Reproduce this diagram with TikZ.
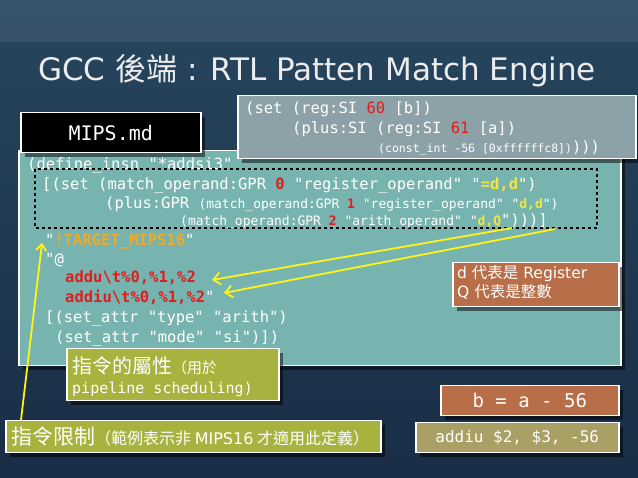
\documentclass[tikz,border=0pt]{standalone}
\usetikzlibrary{arrows.meta}
\usepackage{fontspec}
\setmainfont{DejaVu Sans}
\newfontfamily\mono{DejaVu Sans Mono}
\newfontfamily\cjk{Noto Sans CJK TC}
\begin{document}
\begin{tikzpicture}[x=1pt,y=-1pt,
  code/.style={anchor=base west,inner sep=0,text=white,font=\mono\fontsize{15.5}{16}\selectfont},
  codes/.style={anchor=base west,inner sep=0,text=white,font=\mono\fontsize{13}{14}\selectfont},
  box/.style={draw=white,line width=1.5pt},
  arr/.style={draw=yellow!90!white,line width=1.8pt,-{Straight Barb[length=7pt,width=12pt]}}]
\definecolor{bgA}{RGB}{40,70,95}\definecolor{bgB}{RGB}{25,45,70}
\definecolor{teal}{RGB}{120,180,175}\definecolor{gbox}{RGB}{140,162,168}
\definecolor{brn}{RGB}{184,110,72}\definecolor{olv}{RGB}{168,178,62}
\definecolor{kha}{RGB}{168,160,100}\definecolor{rr}{RGB}{220,30,30}
\definecolor{yy}{RGB}{240,230,60}\definecolor{org}{RGB}{240,170,40}
\useasboundingbox (0,0) rectangle (638,478);
\shade[top color=bgA,bottom color=bgB] (0,0) rectangle (638,478);
\fill[white,opacity=0.08] (0,0) rectangle (638,42);
\node[anchor=base west,inner sep=0,text=white!85!gray,font=\fontsize{31}{32}\selectfont] (title) at (38,81) {GCC {\cjk 後端} : RTL Patten Match Engine};
% teal main box
\fill[black,opacity=0.5] (23,155) rectangle (625,370);
\node[box,fill=teal,minimum width=602,minimum height=215,anchor=north west,inner sep=0] (main) at (18,150) {};
% MIPS.md
\fill[black,opacity=0.5] (25,117) rectangle (205,157);
\node[box,fill=black,minimum width=180,minimum height=40,anchor=north west,inner sep=0,text=white,font=\mono\fontsize{20}{20}\selectfont] (mips) at (20,112) {MIPS.md};
% gray set box
\fill[black,opacity=0.5] (242,100) rectangle (640,163);
\node[box,fill=gbox,minimum width=398,minimum height=63,anchor=north west,inner sep=0] (setb) at (237,95) {};
\node[code] (s1) at (245,114) {(set (reg:SI {\color{rr}60} [b])};
\node[code] (s2) at (292,134) {(plus:SI (reg:SI {\color{rr}61} [a])};
\node[codes,font=\mono\fontsize{11.5}{12}\selectfont] (s3) at (378,153) {(const\_int -56 [0xffffffc8]){\fontsize{15.5}{16}\selectfont)))}};
% code
\node[code] (c1) at (27,170) {(define\_insn "*addsi3"};
\draw[black,dashed,line width=1.8pt] (35,169) rectangle (597,228);
\node[code] (c2) at (42,190) {[(set (match\_operand:GPR {\color{rr}\bfseries 0} "register\_operand" "{\color{yy}\bfseries =d,d}")};
\node[code] (c3) at (105,209) {(plus:GPR {\fontsize{13}{14}\selectfont(match\_operand:GPR {\color{rr}\bfseries 1} "register\_operand" "{\color{yy}\bfseries d,d}")}};
\node[codes] (c4) at (180,226) {(match\_operand:GPR {\color{rr}\bfseries 2} "arith\_operand" "{\color{yy}\bfseries d,Q}{\fontsize{15.5}{16}\selectfont")))]}};
\node[code] (c5) at (45,246) {"{\color{org}\bfseries !TARGET\_MIPS16}"};
\node[code] (c6) at (45,265) {"@};
\node[code,text=rr,font=\mono\bfseries\fontsize{15.5}{16}\selectfont] (c7) at (65,283) {addu\textbackslash t\%0,\%1,\%2};
\node[code,text=rr,font=\mono\bfseries\fontsize{15.5}{16}\selectfont] (c8) at (65,303) {addiu\textbackslash t\%0,\%1,\%2{\color{white}\mdseries"}};
\node[code] (c9) at (45,323) {[(set\_attr "type" "arith")};
\node[code] (c10) at (55,343) {(set\_attr "mode" "si")])};
% d/Q box
\fill[black,opacity=0.5] (457,267) rectangle (623,311);
\node[box,fill=brn,minimum width=166,minimum height=44,anchor=north west,inner sep=0] (dq) at (452,262) {};
\node[anchor=north west,inner sep=0,text=white,align=left,font=\fontsize{15.5}{19}\selectfont] (dqt) at (457,265) {d {\cjk 代表是} Register\\Q {\cjk 代表是整數}};
% attr box
\fill[black,opacity=0.5] (71,353) rectangle (283,405);
\node[box,fill=olv,minimum width=212,minimum height=52,anchor=north west,inner sep=0] (attr) at (66,348) {};
\node[anchor=base west,inner sep=0,text=white,font=\cjk\fontsize{20}{20}\selectfont] (at1) at (72,374) {指令的屬性{\fontsize{15}{15}\selectfont （用於}};
\node[code,font=\mono\fontsize{15}{15}\selectfont] (at2) at (72,394) {pipeline scheduling)};
% limit box
\fill[black,opacity=0.5] (10,425) rectangle (385,457);
\node[box,fill=olv,minimum width=375,minimum height=32,anchor=north west,inner sep=0] (lim) at (5,420) {};
\node[anchor=base west,inner sep=0,text=white,font=\cjk\fontsize{21}{21}\selectfont] (limt) at (11,445) {指令限制{\fontsize{16}{16}\selectfont （範例表示非 {\fontspec{DejaVu Sans}MIPS16} 才適用此定義）}};
% b = a - 56
\fill[black,opacity=0.5] (445,390) rectangle (623,420);
\node[box,fill=brn,minimum width=178,minimum height=30,anchor=north west,inner sep=0,text=white,font=\mono\fontsize{19}{19}\selectfont] (eq) at (440,385) {b = a - 56};
\fill[black,opacity=0.5] (420,427) rectangle (623,457);
\node[box,fill=kha,minimum width=203,minimum height=30,anchor=north west,inner sep=0,text=white,font=\mono\fontsize{16}{16}\selectfont] (asm) at (415,422) {addiu \$2, \$3, -56};
% arrows
\coordinate (a1) at (512,228); \coordinate (a2) at (555,229);
\coordinate (e1) at (212,280); \coordinate (e2) at (224,293);
\coordinate (l1) at (21,420); \coordinate (l2) at (42,243);
\draw[arr] (a1) -- (e1);
\draw[arr] (a2) -- (e2);
\draw[arr,-{Straight Barb[length=6pt,width=10pt]}] (l1) -- (l2);
\end{tikzpicture}
\end{document}
